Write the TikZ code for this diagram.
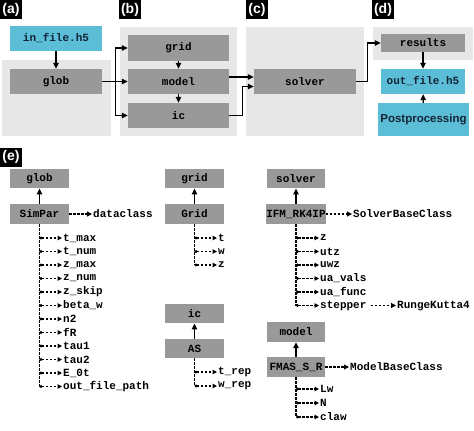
\documentclass[tikz,border=0pt]{standalone}
\usepackage{fontspec}
\setmainfont{Liberation Sans}
\setsansfont{Liberation Sans}
\setmonofont{Liberation Mono}
\usetikzlibrary{arrows.meta,positioning,calc}
\definecolor{boxgray}{RGB}{153,153,153}
\definecolor{panelgray}{RGB}{231,231,231}
\definecolor{filecyan}{RGB}{91,189,214}
\definecolor{navytext}{RGB}{20,36,56}

\begin{document}
\begin{tikzpicture}[
    x=1pt, y=-1pt,
    >={Triangle[length=6pt,width=5.5pt]},
    cls/.style={fill=boxgray, inner sep=0pt, minimum width=59pt, minimum height=19.5pt, font=\ttfamily\bfseries\fontsize{11}{13}\selectfont},
    block/.style={cls, minimum width=92pt, minimum height=25pt},
    file/.style={block, fill=filecyan, text=navytext},
    panel/.style={fill=panelgray},
    tag/.style={fill=black, text=white, inner sep=0pt, minimum width=22pt, minimum height=19pt, font=\sffamily\bfseries\fontsize{14}{16}\selectfont},
    member/.style={anchor=west, inner sep=1pt, font=\ttfamily\bfseries\fontsize{11}{13}\selectfont},
    flow/.style={draw, line width=1.4pt, ->},
    attr/.style={draw, dash pattern=on 2.5pt off 1.5pt, line width=1.1pt, {Circle[length=3pt]}-{Triangle[length=4.5pt,width=4.5pt]}},
    inherit/.style={draw, dash pattern=on 2.5pt off 1.5pt, line width=1.1pt, -{Triangle[length=5pt,width=5pt]}},
    spine/.style={draw, dash pattern=on 2.5pt off 1.5pt, line width=1.2pt}
]
\useasboundingbox (0,0) rectangle (474,431);

% Panels
\fill[panel] (2,60) rectangle (111,136);
\fill[panel] (120,27) rectangle (237,136);
\fill[panel] (246,27) rectangle (364,136);
\fill[panel] (373,27) rectangle (473,60);

% Tags
\node[tag] (taga) at (11,9.5) {(a)};
\node[tag] (tagb) at (130,9.5) {(b)};
\node[tag] (tagc) at (257,9.5) {(c)};
\node[tag] (tagd) at (383,9.5) {(d)};
\node[tag] (tage) at (11,157) {(e)};

% Workflow nodes
\node[file] (infile) at (56,38.5) {in\_file.h5};
\node[block] (glob) at (56,81.5) {glob};
\node[block, minimum width=101pt, minimum height=26pt] (grid) at (178.5,48) {grid};
\node[block, minimum width=101pt] (model) at (178.5,81.5) {model};
\node[block, minimum width=101pt] (ic) at (178.5,115.5) {ic};
\node[block, minimum width=102pt] (solver) at (305,81.5) {solver};
\node[block, minimum width=84pt, minimum height=18pt] (results) at (423,43) {results};
\node[file, minimum width=84pt] (outfile) at (423,81.5) {out\_file.h5};
\node[file, minimum width=91pt, minimum height=33pt, font=\sffamily\bfseries\fontsize{11.5}{13}\selectfont] (postproc) at (423.5,119.5) {Postprocessing};
\coordinate (split) at ($(glob.east)+(13,0)$);

% Workflow connections
\path[flow] (infile) -- (glob);
\path[flow] (glob) -- (model);
\path[flow] (split) |- (grid.west);
\path[flow] (split) |- (ic.west);
\path[flow] (grid) -- (model);
\path[flow] (model) -- (ic);
\path[flow] ([yshift=4.5pt]model.east) -- ([yshift=4.5pt]solver.west);
\path[flow] (ic.east) -- ++(13,0) |- ([yshift=-5pt]solver.west);
\path[flow] (solver.east) -- ++(11,0) |- (results.west);
\path[flow] (results) -- (outfile);
\path[flow] (postproc) -- (outfile);

% Class diagram: glob
\node[cls] (globmod) at (39.5,178.5) {glob};
\node[cls, minimum height=20pt] (simpar) at (39.5,214) {SimPar};
\node[member] (dataclass) at (92,214) {dataclass};
\node[member] (tmax) at (62,238) {t\_max};
\node[member] (tnum) at (62,251.5) {t\_num};
\node[member] (zmax) at (62,265) {z\_max};
\node[member] (znum) at (62,278.5) {z\_num};
\node[member] (zskip) at (62,292) {z\_skip};
\node[member] (betaw) at (62,305.5) {beta\_w};
\node[member] (ntwo) at (62,319) {n2};
\node[member] (fr) at (62,332.5) {fR};
\node[member] (tauone) at (62,346) {tau1};
\node[member] (tautwo) at (62,359.5) {tau2};
\node[member] (ezerot) at (62,373) {E\_0t};
\node[member] (outpath) at (62,386.5) {out\_file\_path};

\path[flow] (simpar) -- (globmod);
\path[inherit] (simpar.east) -- (dataclass.west);
\path[spine] (simpar.south) -- (simpar.south |- outpath.west);
\path[attr] (simpar.south |- tmax.west) -- (tmax.west);
\path[attr] (simpar.south |- tnum.west) -- (tnum.west);
\path[attr] (simpar.south |- zmax.west) -- (zmax.west);
\path[attr] (simpar.south |- znum.west) -- (znum.west);
\path[attr] (simpar.south |- zskip.west) -- (zskip.west);
\path[attr] (simpar.south |- betaw.west) -- (betaw.west);
\path[attr] (simpar.south |- ntwo.west) -- (ntwo.west);
\path[attr] (simpar.south |- fr.west) -- (fr.west);
\path[attr] (simpar.south |- tauone.west) -- (tauone.west);
\path[attr] (simpar.south |- tautwo.west) -- (tautwo.west);
\path[attr] (simpar.south |- ezerot.west) -- (ezerot.west);
\path[attr] (simpar.south |- outpath.west) -- (outpath.west);

% Class diagram: grid
\node[cls] (gridmod) at (194.5,178.5) {grid};
\node[cls, minimum height=20pt] (gridcls) at (194.5,214) {Grid};
\node[member] (gt) at (217,238) {t};
\node[member] (gw) at (217,251.5) {w};
\node[member] (gz) at (217,265) {z};

\path[flow] (gridcls) -- (gridmod);
\path[spine] (gridcls.south) -- (gridcls.south |- gz.west);
\path[attr] (gridcls.south |- gt.west) -- (gt.west);
\path[attr] (gridcls.south |- gw.west) -- (gw.west);
\path[attr] (gridcls.south |- gz.west) -- (gz.west);

% Class diagram: ic
\node[cls] (icmod) at (194.5,313.5) {ic};
\node[cls] (ascls) at (194.5,348.5) {AS};
\node[member] (trep) at (217,372) {t\_rep};
\node[member] (wrep) at (217,386) {w\_rep};

\path[flow] (ascls) -- (icmod);
\path[spine] (ascls.south) -- (ascls.south |- wrep.west);
\path[attr] (ascls.south |- trep.west) -- (trep.west);
\path[attr] (ascls.south |- wrep.west) -- (wrep.west);

% Class diagram: solver
\node[cls, minimum width=58pt] (solvermod) at (296,178.5) {solver};
\node[cls, minimum width=58pt, minimum height=20pt] (ifm) at (296,214) {IFM\_RK4IP};
\node[member] (solverbase) at (352,214) {SolverBaseClass};
\node[member] (sz) at (319,238) {z};
\node[member] (utz) at (319,251.5) {utz};
\node[member] (uwz) at (319,265) {uwz};
\node[member] (uavals) at (319,278.5) {ua\_vals};
\node[member] (uafunc) at (319,292) {ua\_func};
\node[member] (stepper) at (319,305.5) {stepper};
\node[member] (rk) at (396,305.5) {RungeKutta4};

\path[flow] (ifm) -- (solvermod);
\path[inherit] (ifm.east) -- (solverbase.west);
\path[spine] (ifm.south) -- (ifm.south |- stepper.west);
\path[attr] (ifm.south |- sz.west) -- (sz.west);
\path[attr] (ifm.south |- utz.west) -- (utz.west);
\path[attr] (ifm.south |- uwz.west) -- (uwz.west);
\path[attr] (ifm.south |- uavals.west) -- (uavals.west);
\path[attr] (ifm.south |- uafunc.west) -- (uafunc.west);
\path[attr] (ifm.south |- stepper.west) -- (stepper.west);
\path[inherit] ([xshift=3pt]stepper.east) -- (rk.west);

% Class diagram: model
\node[cls, minimum width=58pt, minimum height=20pt] (modelmod) at (296,332) {model};
\node[cls, minimum width=58pt, minimum height=20pt] (fmas) at (296,367) {FMAS\_S\_R};
\node[member] (modelbase) at (349,367) {ModelBaseClass};
\node[member] (lw) at (319,389) {Lw};
\node[member] (nn) at (319,403) {N};
\node[member] (claw) at (319,417) {claw};

\path[flow] (fmas) -- (modelmod);
\path[inherit] (fmas.east) -- (modelbase.west);
\path[spine] (fmas.south) -- (fmas.south |- claw.west);
\path[attr] (fmas.south |- lw.west) -- (lw.west);
\path[attr] (fmas.south |- nn.west) -- (nn.west);
\path[attr] (fmas.south |- claw.west) -- (claw.west);

\end{tikzpicture}
\end{document}
